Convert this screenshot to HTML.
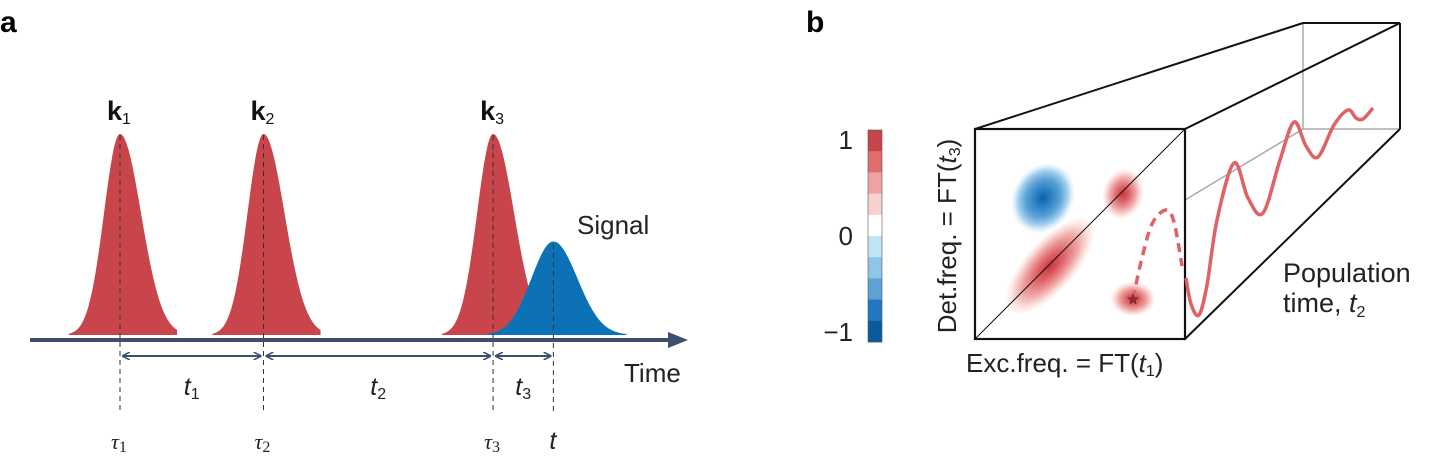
<!DOCTYPE html>
<html><head><meta charset="utf-8"><style>
body{margin:0;background:#fff}
svg{display:block;font-family:"Liberation Sans",sans-serif}
</style></head><body>
<svg id="fig" width="1430" height="461" viewBox="0 0 1430 461">
<defs>
<radialGradient id="gBlue">
<stop offset="0" stop-color="#0b5fa3"/><stop offset="0.25" stop-color="#2b7fc2"/><stop offset="0.55" stop-color="#5aa2d6"/><stop offset="0.8" stop-color="#a9d3ef"/><stop offset="1" stop-color="#e6f3fb" stop-opacity="0.3"/></radialGradient>
<radialGradient id="gRed">
<stop offset="0" stop-color="#c9353d"/><stop offset="0.3" stop-color="#dd6266"/><stop offset="0.6" stop-color="#eea0a0"/><stop offset="0.82" stop-color="#f9d8d5"/><stop offset="1" stop-color="#fdf0ec" stop-opacity="0.4"/></radialGradient>
<marker id="ah" markerWidth="8" markerHeight="8" refX="7" refY="4" orient="auto-start-reverse" markerUnits="userSpaceOnUse"><path d="M0,0 L8,4 L0,8" fill="none" stroke="#3d4f6e" stroke-width="1.6"/></marker>
</defs>
<text x="0" y="32" font-size="30" font-weight="bold">a</text>
<text x="806" y="32" font-size="30" font-weight="bold">b</text>
<g id="pa"></g>
<g id="pb"></g>
</svg>
<script>
const NS="http://www.w3.org/2000/svg";
function mk(p,t,a){const e=document.createElementNS(NS,t);for(const k in a)e.setAttribute(k,a[k]);p.appendChild(e);return e;}
// ---- Panel a data ----
const pulseTimes=[0,1,2.6];
const pulseLabels=["1","2","3"];
const signalTime=3.02;
const pulseAmp=[1,1,1];
const signalAmp=[0.465];
const delayLabels=["1","2","3"];
const xT=t=>120+t*143.5;
const yA=v=>335-v*201;
const pa=document.getElementById('pa');
function pulsePath(c,amp,sl,sr,w){let d="";for(let x=c-w;x<=c+w*1.12;x+=1){const s=x<c?sl:sr;let v=amp*Math.exp(-((x-c)**2)/(2*s*s));d+=(d?"L":"M")+x.toFixed(1)+","+yA(v).toFixed(1);}return d+"L"+(c+w*1.12)+",335L"+(c-w)+",335Z";}
pulseTimes.forEach((t,i)=>{const c=xT(t);
 const p=mk(pa,'path',{d:pulsePath(c,pulseAmp[i],16,21,51),fill:'#c8464b'});
 
 
});
const sc=xT(signalTime);
const sp=mk(pa,'path',{d:pulsePath(sc,signalAmp[0],22,24,66),fill:'#0c72b5'});


// axis
const ax=mk(pa,'line',{x1:30,y1:340,x2:678,y2:340,stroke:'#3d4f6e','stroke-width':4});


const ah=mk(pa,'path',{d:'M668,332 L688,340 L668,348 Z',fill:'#3d4f6e'});


const tx=mk(pa,'text',{x:624,y:382,'font-size':26,fill:'#222'});tx.textContent="Time";


const sg=mk(pa,'text',{x:577,y:234,'font-size':26,fill:'#222'});sg.textContent="Signal";


// dashed lines + labels
const allT=pulseTimes.concat([signalTime]);
allT.forEach((t,i)=>{const x=xT(t);
 const l=mk(pa,'line',{x1:x,y1:i<3?135:244,x2:x,y2:i<3?410:415,stroke:'#333','stroke-width':1,'stroke-dasharray':'5,4'});
 
 
 const lab=mk(pa,'text',{x:x-(i<3?9:4),y:449,'font-size':i<3?22:25,'font-family':'Liberation Serif, serif','font-style':'italic',fill:'#222'});
 if(i<3){lab.innerHTML='τ<tspan font-size="16" dy="3" font-style="normal">'+(i+1)+'</tspan>';}else{lab.setAttribute('font-family','Liberation Sans, sans-serif');lab.textContent='t';}
 
 
 if(i<3){const k=mk(pa,'text',{x:x-13,y:120,'font-size':27,'font-weight':'bold',fill:'#111'});k.innerHTML='k<tspan font-size="16" font-weight="normal" dy="4">'+pulseLabels[i]+'</tspan>';
 
 }
});
for(let i=0;i<3;i++){const a=xT(allT[i])+3,b=xT(allT[i+1])-3;
 const l=mk(pa,'line',{x1:a,y1:356,x2:b,y2:356,stroke:'#3d4f6e','stroke-width':2,'marker-start':'url(#ah)','marker-end':'url(#ah)'});
 
 
 const tt=mk(pa,'text',{x:(a+b)/2-8,y:395,'font-size':25,'font-style':'italic',fill:'#222'});tt.innerHTML='t<tspan font-size="16" font-style="normal" dy="4">'+delayLabels[i]+'</tspan>';
 
 
}
// ---- Panel b ----
const cbColors=["#c6454a","#e06c6e","#eea3a3","#f8d0cd","#ffffff","#bfe4f4","#8ec6e7","#5ca2d5","#1f78c0","#0c5a9e"];
const cbTicks=["1","0","−1"];
const cbTickVals=[1,0,-1];
const pb=document.getElementById('pb');
const cbTop=130,cbBot=342,cbH=(cbBot-cbTop)/cbColors.length;
cbColors.forEach((c,i)=>{const r=mk(pb,'rect',{x:868,y:cbTop+i*cbH,width:14,height:cbH+0.3,fill:c});
 
 });
const cbo=mk(pb,'rect',{x:868,y:cbTop,width:14,height:cbBot-cbTop,fill:'none',stroke:'#555','stroke-width':0.6});


const yCb=v=>cbTop+10+(1-v)/2*(cbBot-cbTop-20);
cbTicks.forEach((t,i)=>{const e=mk(pb,'text',{x:853,y:yCb(cbTickVals[i])+9,'font-size':26,'text-anchor':'end',fill:'#222'});e.textContent=t;
 
 });
// box
const F={l:975,r:1185,t:129,b:339},B={l:1303,r:1400,t:23,b:129};
function ln(x1,y1,x2,y2,c,w,n){const e=mk(pb,'line',{x1,y1,x2,y2,stroke:c,'stroke-width':w});return e;}
ln(B.l,B.t,B.l,B.b,'#aaa',1.5,'hidden-edge');
ln(B.l,B.b,B.r,B.b,'#aaa',1.5,'hidden-edge');
ln(B.l,B.b,F.r,200,'#aaa',1.5,'hidden-edge');
// blobs
function blob(cx,cy,rx,ry,rot,g,n){const e=mk(pb,'ellipse',{cx,cy,rx,ry,fill:'url(#'+g+')',transform:'rotate('+rot+' '+cx+' '+cy+')'});}
blob(1043,198,36,30,-60,'gBlue','negative-cross-peak');
blob(1123,194,20,25,15,'gRed','upper-diagonal-peak');
blob(1050,266,60,25,-48,'gRed','lower-diagonal-peak');
blob(1133,299,22,17,0,'gRed','cross-peak');
ln(F.l,F.b,F.r,F.t,'#111',1,'diagonal-line');
const fr=mk(pb,'rect',{x:F.l,y:F.t,width:F.r-F.l,height:F.b-F.t,fill:'none',stroke:'#111','stroke-width':2.2});


ln(F.l,F.t,B.l,B.t,'#111',2,'box-edge');
ln(F.r,F.t,B.r,B.t,'#111',2,'box-edge');
ln(B.l,B.t,B.r,B.t,'#111',2,'box-edge');
ln(B.r,B.t,B.r,B.b,'#111',2,'box-edge');
ln(F.r,F.b,B.r,B.b,'#111',2,'box-edge');
// oscillation trace
const dashX=[1133,1141,1152,1166,1174,1182];
const dashY=[299,262,224,210,222,266];
const solX=[1186,1191,1199,1207,1217,1234,1248,1263,1280,1294,1306,1318,1334,1348,1356,1363,1373];
const solY=[278,304,315,285,220,163,198,213,160,122,146,157,125,110,118,119,108];
function smooth(X,Y){let d="M"+X[0]+","+Y[0];for(let i=0;i<X.length-1;i++){const x0=X[i-1]??X[i],y0=Y[i-1]??Y[i],x3=X[i+2]??X[i+1],y3=Y[i+2]??Y[i+1];
 d+="C"+(X[i]+(X[i+1]-x0)/6)+","+(Y[i]+(Y[i+1]-y0)/6)+" "+(X[i+1]-(x3-X[i])/6)+","+(Y[i+1]-(y3-Y[i])/6)+" "+X[i+1]+","+Y[i+1];}return d;}
const dp=mk(pb,'path',{d:smooth(dashX,dashY),fill:'none',stroke:'#de6266','stroke-width':3.5,'stroke-dasharray':'9,6'});


const spth=mk(pb,'path',{d:smooth(solX,solY),fill:'none',stroke:'#de6266','stroke-width':3.5});


const st=mk(pb,'text',{x:1133,y:304,'font-size':14,'text-anchor':'middle',fill:'#b0202a',stroke:'#333','stroke-width':0.5});st.textContent="★";


// texts
const dt=mk(pb,'text',{x:0,y:0,'font-size':26,'text-anchor':'middle',fill:'#222',transform:'translate(956,236) rotate(-90)'});
dt.innerHTML='Det.freq. = FT(<tspan font-style="italic">t</tspan><tspan font-size="16" dy="4">3</tspan><tspan dy="-4">)</tspan>';


const et=mk(pb,'text',{x:966,y:372,'font-size':26,fill:'#222'});
et.innerHTML='Exc.freq. = FT(<tspan font-style="italic">t</tspan><tspan font-size="16" dy="4">1</tspan><tspan dy="-4">)</tspan>';


const p1=mk(pb,'text',{x:1283,y:282,'font-size':27,fill:'#222'});p1.textContent="Population";


const p2=mk(pb,'text',{x:1283,y:312,'font-size':27,fill:'#222'});p2.innerHTML='time, <tspan font-style="italic">t</tspan><tspan font-size="16" dy="5">2</tspan>';


</script>
</body></html>
